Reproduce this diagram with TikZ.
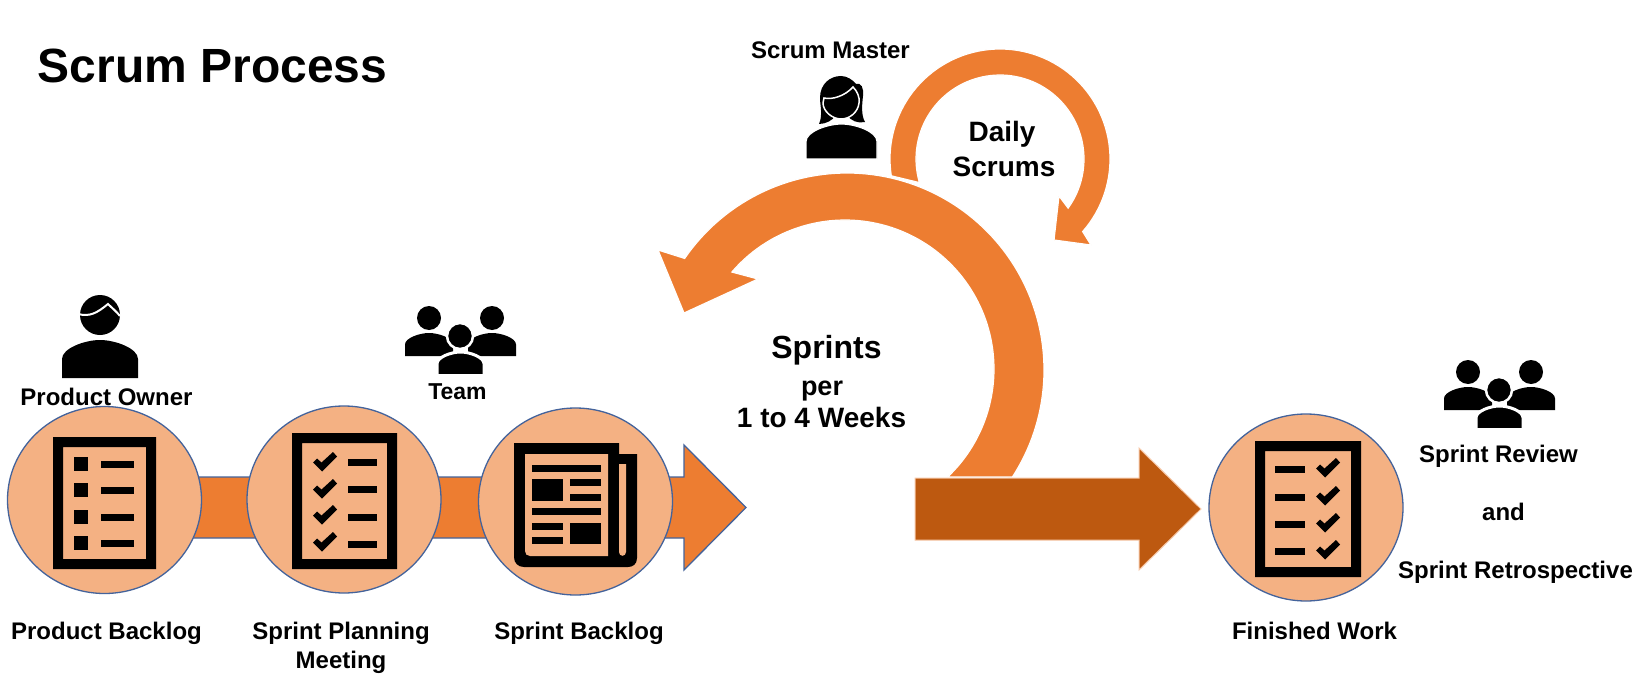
\documentclass[tikz,border=0pt]{standalone}
\usepackage{fontspec}
\usetikzlibrary{shapes.geometric}
\setmainfont{Liberation Sans}
\definecolor{orangeA}{HTML}{ED7D31}
\definecolor{orangeB}{HTML}{F4B183}
\definecolor{darkO}{HTML}{BD5910}
\definecolor{ringB}{HTML}{44639B}
\newcommand{\fs}[1]{\fontsize{#1}{#1}\selectfont\bfseries}
\newcommand{\chk}[2]{\fill[black,shift={(#1,#2)}] (0,10.5) -- (4,6.5) -- (8.5,10.5) -- (20,0) -- (24,4.5) -- (9,19.5) -- cycle;}
\newcommand{\bodyshape}[5][]{% x0 x1 ytop ybot
  \path[#1] (#2,#5) -- (#2,{#5-0.5*(#5-#4)}) .. controls (#2,{#4+0.22*(#5-#4)}) and ({#2+0.3*(#3-#2)},#4) .. ({0.5*(#2+#3)},#4) .. controls ({#3-0.3*(#3-#2)},#4) and (#3,{#4+0.22*(#5-#4)}) .. (#3,{#5-0.5*(#5-#4)}) -- (#3,#5) -- cycle;}
\newcommand{\teamicon}[2]{%
  \begin{scope}[shift={(#1,#2)}]
  \fill (0,0) circle[radius=12];
  \fill (63,0) circle[radius=12];
  \bodyshape[fill=black]{-24}{24}{15}{38}
  \bodyshape[fill=black]{39}{87}{15}{38}
  \bodyshape[fill=black,draw=white,line width=3]{8}{55}{34}{57.5}
  \fill[black,draw=white,line width=2.5] (31,18) circle[radius=13];
  \end{scope}}
\tikzset{
  ring/.style={ellipse,draw=ringB,fill=orangeB,line width=1.3pt,inner sep=0pt,minimum width=194pt,minimum height=187pt},
  bigtext/.style={anchor=base,inner sep=0pt,text=black,font=\fs{24}},
  sweep/.style={fill=orangeA,draw=white,line width=1.2pt},
}
\begin{document}
\begin{tikzpicture}[x=1pt,y=-1pt]
\useasboundingbox (0,0) rectangle (1649,698);
\fill[white] (0,0) rectangle (1649,698);

% input arrow
\draw[fill=orangeA,draw=ringB,line width=1.3pt] (150,477) -- (684,477) -- (684,445) -- (746,507.5) -- (684,570) -- (684,538) -- (150,538) -- cycle;

% circles
\node[ring] (pb) at (104.5,500) {};
\node[ring] (sp) at (344,499.5) {};
\node[ring] (sb) at (575.5,501.5) {};
\node[ring] (fw) at (1306,507.5) {};

% product backlog icon
\fill[even odd rule] (53,437) rectangle (156,569) (63,447) rectangle (146,559);
\foreach \y in {457,483,510,536} {\fill (74,\y) rectangle +(14,14); \fill (101,\y+3.5) rectangle +(33,7);}

% sprint planning icon
\fill[even odd rule] (292,433) rectangle (397,569) (302,443) rectangle (387,559);
\foreach \y in {452,479,505,532} {\chk{313}{\y}}
\foreach \y in {462,489,517,544} {\fill (348,\y-3.5) rectangle +(29,7);}

% newspaper icon
\fill (514,443) -- (619,443) -- (619,454) -- (637,454) -- (637,558) .. controls (637,564) and (633,567) .. (628,567) -- (524,567) .. controls (518,567) and (514,563) .. (514,557) -- cycle;
\fill[orangeB] (525,454) -- (608,454) -- (608,556) -- (530,556) .. controls (527,556) and (525,554) .. (525,551) -- cycle;
\fill[orangeB] (619,464) -- (626,464) -- (626,552) .. controls (626,557) and (619,557) .. (619,552) -- cycle;
\fill (532,465) rectangle (601,472);
\fill (532,479) rectangle (563,501);
\fill (570,479) rectangle (601,486);
\fill (570,494) rectangle (601,501);
\fill (532,508) rectangle (601,515);
\fill (532,523) rectangle (563,530);
\fill (532,537) rectangle (563,544);
\fill (570,523) rectangle (601,544);

% finished work icon
\fill[even odd rule] (1255,441) rectangle (1361,577) (1265,451) rectangle (1351,567);
\foreach \y in {469,497,524,551} {\fill (1275,\y-3.5) rectangle +(30,7);}
\foreach \y in {458,486,513,540} {\chk{1316}{\y}}

% daily scrums arrow
\path[sweep] plot[domain=171.2:401.3,samples=80] ({1000+110*cos(\x)},{159+110*sin(\x)}) -- (1091,245) -- (1054,240) -- (1059,196) -- plot[domain=395.8:163.7,samples=80] ({1000+84*cos(\x)},{159+84*sin(\x)}) -- cycle;
% sprint arrow
\path[sweep] plot[domain=392.9:214.5,samples=100] ({847+197*cos(\x)},{370+197*sin(\x)}) -- (658,250) -- (684,313) -- (758,279) -- plot[domain=220.6:406.4,samples=100] ({845+149*cos(\x)},{369+149*sin(\x)}) -- cycle;

% output arrow
\draw[fill=darkO,draw=orangeB!70!white,line width=1pt] (915,478) -- (1139,478) -- (1139,448) -- (1201,509) -- (1139,570) -- (1139,540) -- (915,540) -- cycle;

% product owner
\fill (100,315) circle[radius=20];
\draw[white,line width=2] (78,314) .. controls (90,317) and (97,313) .. (108,304) .. controls (112,308) and (116,311) .. (120,316);
\bodyshape[fill=black]{62}{138}{340}{378}

% team
\teamicon{429}{318}
\teamicon{1468}{372}

% scrum master
\fill (819,124) .. controls (823,115) and (820,105) .. (820,98) .. controls (820,84) and (830,76) .. (841,76) .. controls (847,76) and (853,80) .. (856,84) .. controls (861,82) and (864,88) .. (863,96) .. controls (862,105) and (861,115) .. (865,122) .. controls (858,124) and (850,120) .. (848,116) -- (835,116) .. controls (833,120) and (826,124) .. (819,124) -- cycle;
\draw[white,fill=black,line width=1.5] (824,98) .. controls (832,100) and (845,96) .. (853,87) .. controls (857,91) and (860,97) .. (859,103) .. controls (858,112) and (850,119) .. (841,119) .. controls (832,119) and (823,111) .. (823,103) -- cycle;
\bodyshape[fill=black,draw=white,line width=1.2]{806}{877}{124}{159}

% texts
\node[bigtext,font=\fs{48}] (title) at (212.5,83) {Scrum Process};
\node[bigtext] (smlabel) at (830.5,58.5) {Scrum Master};
\node[bigtext,font=\fs{28}] (daily) at (1002,142) {Daily};
\node[bigtext,font=\fs{28}] (scrums) at (1004,176) {Scrums};
\node[bigtext] (polabel) at (106.5,405) {Product Owner};
\node[bigtext,font=\fs{23}] (teamlabel) at (457.5,399.5) {Team};
\node[bigtext,font=\fs{32}] (sprints) at (826.5,358) {Sprints};
\node[bigtext,font=\fs{27}] (per) at (822,395) {per};
\node[bigtext,font=\fs{28}] (weeks) at (821.5,427.5) {1 to 4 Weeks};
\node[bigtext] (pblabel) at (106.5,639.5) {Product Backlog};
\node[bigtext] (splabel) at (341,639.5) {Sprint Planning};
\node[bigtext] (meeting) at (341,668) {Meeting};
\node[bigtext] (sblabel) at (579,639.5) {Sprint Backlog};
\node[bigtext] (fwlabel) at (1314.5,639) {Finished Work};
\node[bigtext] (review) at (1498.5,462.5) {Sprint Review};
\node[bigtext] (andl) at (1503.5,520) {and};
\node[bigtext] (retro) at (1515.5,578) {Sprint Retrospective};
\end{tikzpicture}
\end{document}
